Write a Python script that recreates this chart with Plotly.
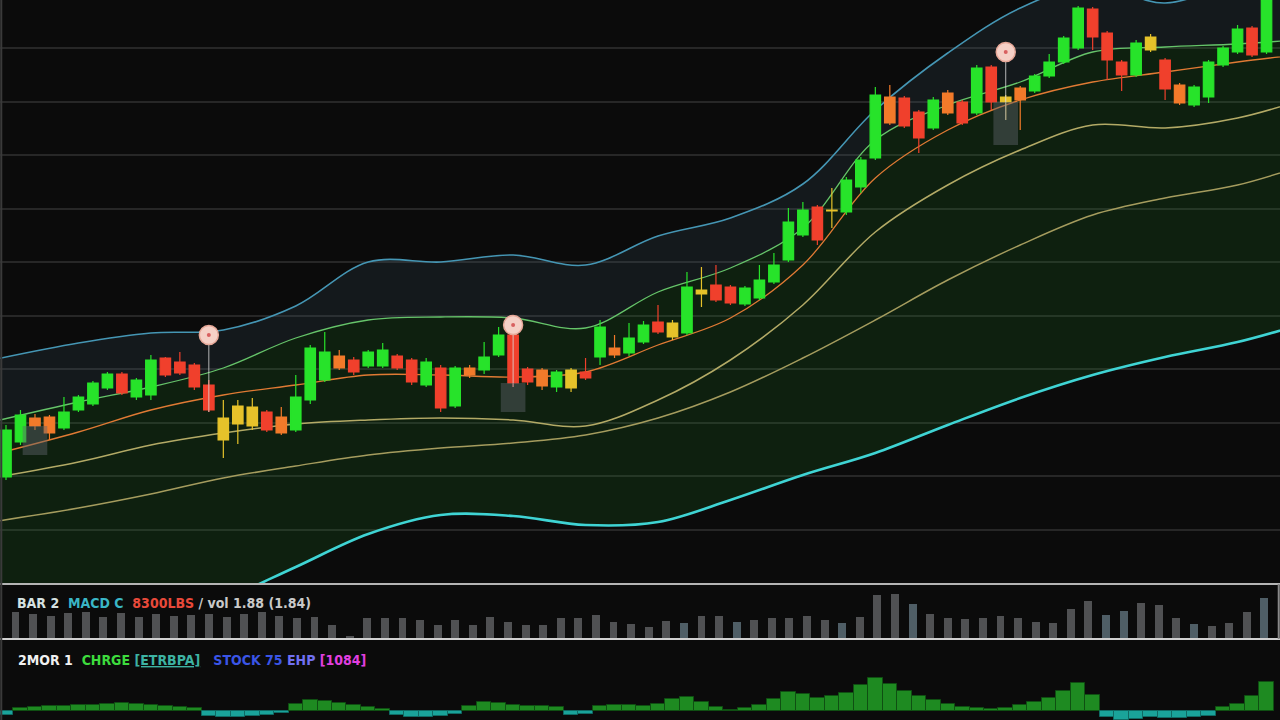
import plotly.graph_objects as go

# ---------------- price candles (one per session) ----------------
opens = [112.3, 115.8, 118.2, 118.3, 117.2, 119.0, 119.6, 121.2, 122.6, 120.3,
         120.5, 124.2, 123.8, 123.5, 121.5, 118.2, 117.6, 117.4, 118.8, 116.7,
         117.0, 120.0, 122.0, 124.4, 124.0, 123.4, 123.4, 124.4, 124.0, 121.5,
         123.2, 119.4, 123.2, 123.0, 124.5, 126.5, 123.1, 123.0, 121.3, 121.2,
         122.8, 124.3, 125.2, 124.7, 125.8, 127.8, 127.7, 126.7, 130.6, 131.5,
         131.3, 129.6, 130.2, 131.8, 134.0, 136.5, 139.3, 138.9, 138.8, 141.3,
         144.2, 150.3, 150.2, 148.8, 147.2, 150.7, 149.8, 148.7, 153.3, 150.3,
         151.2, 150.9, 152.4, 153.8, 155.2, 159.1, 156.7, 153.8, 152.5, 155.0,
         154.0, 151.5, 149.5, 150.3, 153.5, 154.8, 157.2, 154.8]
highs = [117.5, 119.0, 118.6, 118.5, 120.3, 120.5, 121.9, 122.8, 122.8, 122.2,
         124.5, 124.3, 124.8, 123.7, 122.0, 120.0, 120.0, 120.2, 119.0, 119.3,
         122.5, 125.5, 126.8, 125.0, 124.3, 125.0, 125.7, 124.6, 124.2, 124.2,
         123.5, 123.4, 123.5, 125.8, 127.3, 126.7, 123.3, 123.2, 123.0, 123.2,
         124.2, 128.0, 126.5, 127.7, 127.9, 129.5, 128.0, 132.8, 133.3, 133.5,
         131.5, 131.4, 133.5, 134.7, 139.2, 139.8, 139.5, 141.2, 142.3, 144.3,
         151.3, 151.5, 150.4, 149.0, 150.3, 151.0, 150.0, 153.5, 153.5, 150.5,
         151.4, 152.6, 154.6, 156.4, 159.4, 159.3, 156.9, 154.0, 156.0, 156.6,
         154.2, 151.7, 151.5, 154.0, 155.4, 157.5, 157.4, 160.5]
lows = [112.0, 115.5, 117.0, 116.0, 117.0, 118.8, 119.4, 121.0, 120.5, 120.0,
        120.0, 122.3, 122.5, 121.0, 118.8, 114.2, 115.6, 117.0, 116.8, 116.5,
        116.8, 119.6, 121.8, 123.0, 122.5, 123.2, 123.2, 123.0, 121.5, 121.3,
        118.8, 119.2, 122.2, 122.6, 124.3, 121.3, 121.5, 121.0, 120.8, 120.8,
        122.0, 123.5, 124.2, 124.4, 125.6, 126.6, 126.0, 126.5, 129.3, 129.8,
        129.5, 129.4, 130.0, 131.6, 133.8, 136.3, 135.5, 137.2, 138.5, 140.7,
        144.0, 147.5, 147.2, 144.7, 147.0, 148.5, 147.5, 148.5, 149.0, 148.0,
        147.0, 150.7, 152.2, 153.6, 155.0, 155.0, 152.0, 150.9, 152.3, 154.8,
        150.0, 149.5, 149.3, 149.7, 153.3, 154.6, 154.3, 154.6]
closes = [117.0, 118.5, 117.4, 116.7, 118.8, 120.3, 121.7, 122.6, 120.7, 122.0,
          124.0, 122.5, 122.7, 121.3, 119.0, 116.0, 119.4, 119.3, 117.0, 118.3,
          120.3, 125.2, 124.8, 123.2, 122.8, 124.8, 125.0, 123.2, 121.8, 123.8,
          119.2, 123.2, 122.5, 124.3, 126.5, 121.7, 121.8, 121.4, 122.8, 123.0,
          122.2, 127.3, 124.5, 126.2, 127.5, 126.8, 126.3, 131.3, 131.0, 130.0,
          129.7, 131.2, 132.0, 133.5, 137.8, 139.0, 136.0, 139.0, 142.0, 144.0,
          150.5, 147.7, 147.4, 146.2, 150.0, 148.7, 147.7, 153.2, 149.8, 149.8,
          150.0, 152.4, 153.8, 156.2, 159.2, 156.3, 154.0, 152.5, 155.7, 156.3,
          151.1, 149.7, 151.3, 153.8, 155.2, 157.1, 154.5, 160.0]
# g = bull, r = bear, o = fading, y = indecision
candle_tags = list("ggooggggrg" "grrrryyyro" "gggorggrrg" "rgoggrrogy"
                   "rgoggrygyr" "rgggggrygg" "gorrgorgry" "oggggrrrgy" "roggggrg")

# ---------------- indicator curves, sampled every 5 sessions ----------------
knot_idx = [-1, 5, 10, 15, 20, 25, 30, 35, 40, 45, 50, 55, 60, 65, 70, 75, 80, 85, 89]
upper_band = [124.0, 125.7, 126.7, 127.0, 129.4, 133.8, 133.8, 134.5, 133.5, 136.4,
              138.2, 141.6, 149.0, 154.7, 159.2, 161.5, 159.7, 162.0, 164.0]
mid_line = [117.8, 119.8, 121.3, 123.2, 126.2, 128.0, 128.3, 128.2, 127.2, 130.8,
            133.2, 137.2, 146.0, 149.5, 151.8, 154.8, 155.3, 155.6, 156.0]
fast_ma = [114.5, 116.8, 119.0, 120.5, 121.5, 122.5, 122.5, 122.3, 122.8, 125.5,
           128.2, 133.5, 142.2, 147.0, 150.0, 151.8, 152.8, 153.8, 154.5]
slow_ma = [112.2, 113.8, 115.5, 116.7, 117.6, 118.0, 118.2, 118.0, 117.4, 120.0,
           124.0, 129.5, 136.8, 141.5, 145.0, 147.5, 147.2, 148.2, 149.8]
trend_ma = [107.8, 109.2, 110.6, 112.2, 113.4, 114.5, 115.2, 115.7, 116.5, 118.2,
            120.8, 124.2, 128.0, 132.0, 135.5, 138.5, 140.2, 141.5, 143.2]
lower_band = [91.0, 94.5, 97.2, 100.0, 103.3, 106.6, 108.5, 108.4, 107.5, 107.8,
              110.0, 112.5, 114.7, 117.5, 120.2, 122.5, 124.3, 125.8, 127.4]

signal_idx = [14, 35, 69]
signal_price = [126.5, 127.5, 154.8]
zone_idx = [2, 35, 69]

# ---------------- volume (own bar grid) ----------------
volume = [2600, 2400, 2200, 2500, 2600, 2100, 2500, 2100, 2400, 2200,
          2300, 2400, 2100, 2400, 2600, 2200, 2000, 2100, 1300, 200,
          2000, 2000, 2000, 1800, 1300, 1800, 1300, 2100, 1600, 1300,
          1300, 2000, 2000, 2300, 1600, 1400,
          1100, 1700, 1500, 2200, 2200, 1600, 1800, 2000, 2000, 2200,
          1800, 1500, 2100, 4300, 4400, 3400, 2400, 2000, 1900, 2000,
          2200, 2000, 1600, 1500, 2900, 3700, 2300, 2700, 3500, 3300,
          2000, 1400, 1200, 1500, 2600, 4000]

# ---------------- momentum histogram (per session) ----------------
momentum = [-4, 3, 4, 5, 5, 6, 6, 7, 8, 7,
            6, 5, 4, 3, -5, -6, -6, -5, -4, -2,
            7, 11, 10, 8, 6, 4, 2, -4, -6, -6,
            -5, -3, 5, 9, 8, 6, 5, 5, 4, -4,
            -3, 5, 6, 6, 5, 7, 12, 14, 9, 4,
            1, 3, 6, 12, 19, 17, 13, 15, 18, 26,
            33, 27, 20, 15, 11, 7, 4, 3, 2, 3,
            6, 9, 13, 20, 28, 16, -6, -9, -8, -6,
            -7, -7, -6, -5, 4, 7, 15, 29]

# ---------------- styling ----------------
BG = "#0b0b0b"
TAG_COLORS = {"g": "#27e32a", "r": "#f0402c", "o": "#f27a2a", "y": "#e6c22a"}
TINTED_VOL = {38, 41, 47, 51, 62, 63, 67, 71}
PRICE_RANGE = [101.7, 160.0]
X_RANGE = [-0.414, 87.93]

n = len(opens)
sessions = list(range(n))

fig = go.Figure()

# bands and averages (base layer)
spl = dict(shape="spline", smoothing=1.0)
fig.add_trace(go.Scatter(x=knot_idx, y=upper_band, mode="lines",
                         line=dict(color="#4596b4", width=1.6, **spl)))
fig.add_trace(go.Scatter(x=knot_idx, y=mid_line, mode="lines", fill="tonexty",
                         fillcolor="rgba(70,100,120,0.16)",
                         line=dict(color="#66c46a", width=1.3, **spl)))
fig.add_trace(go.Scatter(x=knot_idx, y=lower_band, mode="lines", fill="tonexty",
                         fillcolor="rgba(30,120,35,0.20)",
                         line=dict(color="#3fd4d4", width=2.6, **spl)))
fig.add_trace(go.Scatter(x=knot_idx, y=trend_ma, mode="lines",
                         line=dict(color="#a59c5e", width=1.5, **spl)))
fig.add_trace(go.Scatter(x=knot_idx, y=slow_ma, mode="lines",
                         line=dict(color="#b3aa66", width=1.5, **spl)))
fig.add_trace(go.Scatter(x=knot_idx, y=fast_ma, mode="lines",
                         line=dict(color="#e07a34", width=1.3, **spl)))

# candles, one trace per tag colour (drawn on the overlay axis so they sit on top)
for tag, col in TAG_COLORS.items():
    ids = [i for i in sessions if candle_tags[i] == tag]
    fig.add_trace(go.Candlestick(
        x=ids,
        open=[opens[i] for i in ids], high=[highs[i] for i in ids],
        low=[lows[i] for i in ids], close=[closes[i] for i in ids],
        increasing=dict(line=dict(color=col, width=1.2), fillcolor=col),
        decreasing=dict(line=dict(color=col, width=1.2), fillcolor=col),
        whiskerwidth=0, yaxis="y4", hoverinfo="skip"))

# signal pins
for i, p in zip(signal_idx, signal_price):
    fig.add_trace(go.Scatter(x=[i, i], y=[p, lows[i]], mode="lines", yaxis="y4",
                             line=dict(color="rgba(220,220,220,0.8)", width=1)))
fig.add_trace(go.Scatter(x=signal_idx, y=signal_price, mode="markers", yaxis="y4",
                         marker=dict(size=19, color="#f5d0c6",
                                     line=dict(color="#e7a898", width=1.5))))
fig.add_trace(go.Scatter(x=signal_idx, y=signal_price, mode="markers", yaxis="y4",
                         marker=dict(size=4, color="#d86060")))

# shaded zones under flagged candles
for i in zone_idx:
    fig.add_shape(type="rect", xref="x", yref="y", x0=i - 0.85, x1=i + 0.85,
                  y0=lows[i] - 2.5, y1=min(opens[i], closes[i]),
                  fillcolor="rgba(95,100,106,0.45)", line=dict(width=0), layer="above")

# volume bars
vol_colors = ["#4f5e66" if k in TINTED_VOL else "#505153" for k in range(len(volume))]
fig.add_trace(go.Bar(x=list(range(len(volume))), y=volume, width=0.45,
                     marker=dict(color=vol_colors, line=dict(width=0)),
                     xaxis="x2", yaxis="y2"))

# momentum histogram
mom_colors = ["#1e8a21" if v >= 0 else "#1aa39a" for v in momentum]
mom_lines = ["#0f4f12" if v >= 0 else "#0f6a64" for v in momentum]
fig.add_trace(go.Bar(x=sessions, y=momentum, width=1.0,
                     marker=dict(color=mom_colors, line=dict(color=mom_lines, width=1)),
                     xaxis="x3", yaxis="y3"))

# panel separators and frame
for yp, col in [(1 - 584 / 720, "#b5b5b5"), (1 - 639 / 720, "#cfcfcf")]:
    fig.add_shape(type="line", xref="paper", yref="paper", x0=0, x1=1, y0=yp, y1=yp,
                  line=dict(color=col, width=2))
fig.add_shape(type="line", xref="paper", yref="paper", x0=0.001, x1=0.001, y0=0, y1=1,
              line=dict(color="#3a3a3a", width=2))
fig.add_shape(type="line", xref="paper", yref="paper", x0=0.999, x1=0.999,
              y0=1 - 639 / 720, y1=1 - 584 / 720, line=dict(color="#8a8a8a", width=2))

# legend strips
FONT = "DejaVu Sans Condensed, Liberation Sans Narrow, Roboto Condensed, DejaVu Sans, sans-serif"
row1 = ("<b><span style='color:#d6e2e2'>BAR 2</span>  "
        "<span style='color:#3ab6c6'>MACD C</span>  "
        "<span style='color:#e8493a'>8300LBS</span>"
        "<span style='color:#c9c9c9'> / vol 1.88 (1.84)</span></b>")
row2 = ("<b><span style='color:#f0f0f0'>2MOR 1</span>  "
        "<span style='color:#3ddb3d'>CHRGE</span> "
        "<span style='color:#3db3a3'><u>[ETRBPA]</u></span>   "
        "<span style='color:#3a55e6'>STOCK 75 </span>"
        "<span style='color:#7070f2'>EHP </span>"
        "<span style='color:#e23fe0'>[1084]</span></b>")
fig.add_annotation(text=row1, xref="paper", yref="paper", x=15 / 1280, y=1 - 603 / 720,
                   xanchor="left", yanchor="middle", showarrow=False,
                   font=dict(family=FONT, size=14))
fig.add_annotation(text=row2, xref="paper", yref="paper", x=16 / 1280, y=1 - 660 / 720,
                   xanchor="left", yanchor="middle", showarrow=False,
                   font=dict(family=FONT, size=14))

hidden = dict(visible=False, fixedrange=True)
fig.update_layout(
    width=1280, height=720, margin=dict(l=0, r=0, t=0, b=0),
    paper_bgcolor=BG, plot_bgcolor=BG, showlegend=False,
    boxgap=0.15, boxgroupgap=0.15, bargap=0,
    xaxis=dict(domain=[0, 1], range=X_RANGE, anchor="y", rangeslider=dict(visible=False), **hidden),
    yaxis=dict(domain=[1 - 583 / 720, 1], range=PRICE_RANGE, showgrid=True,
               gridcolor="#272727", gridwidth=2, tick0=107.05, dtick=5.35,
               showticklabels=False, zeroline=False, showline=False, ticks="", fixedrange=True),
    yaxis4=dict(overlaying="y", range=PRICE_RANGE, showgrid=False, visible=False),
    xaxis2=dict(domain=[0, 1], range=[-0.881, 71.89], anchor="y2", **hidden),
    yaxis2=dict(domain=[1 - 638 / 720, 1 - 586 / 720], range=[0, 5200], **hidden),
    xaxis3=dict(domain=[0, 1], range=X_RANGE, anchor="y3", **hidden),
    yaxis3=dict(domain=[0, 1 - 641 / 720], range=[-9, 70], **hidden),
)

fig.write_html("out.html")
